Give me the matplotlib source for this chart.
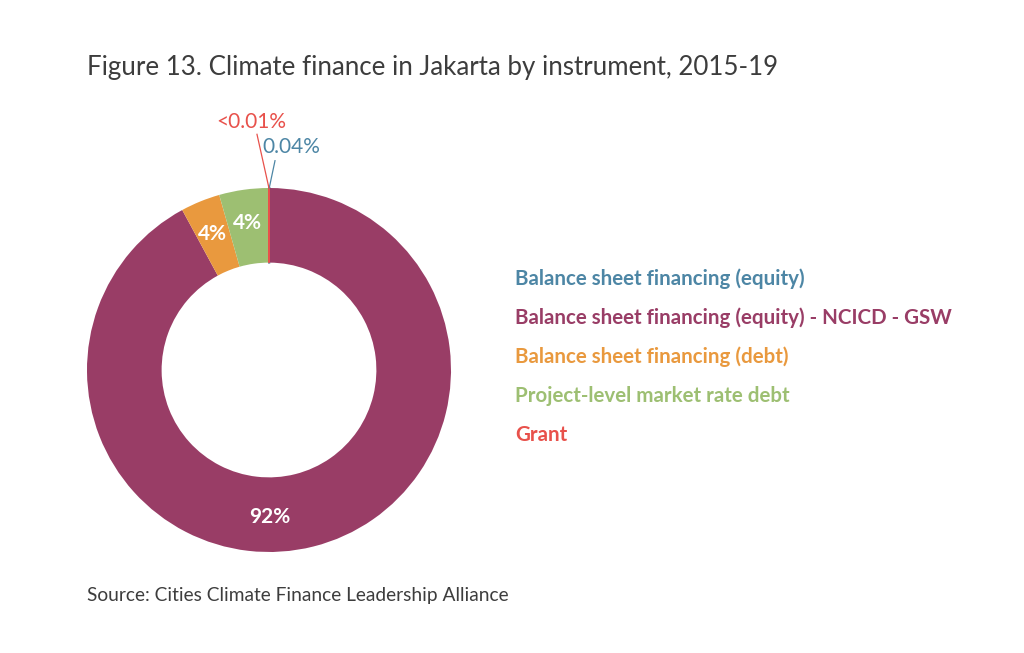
import numpy as np
import matplotlib
matplotlib.use("Agg")
import matplotlib.pyplot as plt

plt.rcParams['font.family'] = ['Lato', 'DejaVu Sans']

# Data (share of climate finance, %)
categories = [
    "Balance sheet financing (equity)",
    "Balance sheet financing (equity) - NCICD - GSW",
    "Balance sheet financing (debt)",
    "Project-level market rate debt",
    "Grant",
]
values = [0.04, 92.05, 3.5, 4.4, 0.01]
labels = ["0.04%", "92%", "4%", "4%", "<0.01%"]
colors = ["#4d86a5", "#993d66", "#e9993e", "#9dbf72", "#e8514b"]

fig = plt.figure(figsize=(10.24, 6.53), dpi=100)
fig.patch.set_facecolor("white")

# donut axes: centre (269, 370) px, radius 182 px
ax = fig.add_axes([87 / 1024, (653 - 552) / 653, 364 / 1024, 364 / 653])
wedges, _ = ax.pie(
    values,
    colors=colors,
    startangle=90,
    counterclock=False,
    radius=1.0,
    wedgeprops=dict(width=0.41, edgecolor="none"),
)
# tiny slivers get an outline so they stay visible
for w, c, v in zip(wedges, colors, values):
    if v < 1:
        w.set_edgecolor(c)
        w.set_linewidth(1.4 if v > 0.02 else 1.0)
ax.set_xlim(-1, 1)
ax.set_ylim(-1, 1)
ax.set_aspect("equal")

# mid angle of each wedge (degrees, standard orientation)
mids = [(w.theta1 + w.theta2) / 2 for w in wedges]

# labels inside the ring
inner_pos = {1: (0.005, -0.81), 2: (-0.31, 0.75), 3: (-0.12, 0.81)}
for i, (x, y) in inner_pos.items():
    ax.text(x, y, labels[i], color="white", fontsize=15, fontweight="bold",
            ha="center", va="center")

# callouts for the small slices
callouts = {0: ((0.12, 1.225), (0.033, 1.15)), 4: ((-0.10, 1.36), (-0.066, 1.295))}
for i, (tpos, lstart) in callouts.items():
    a = np.deg2rad(mids[i])
    end = (np.cos(a), np.sin(a))
    ax.plot([lstart[0], end[0]], [lstart[1], end[1]], color=colors[i],
            lw=0.9, clip_on=False)
    ax.text(tpos[0], tpos[1], labels[i], color=colors[i], fontsize=15,
            ha="center", va="center", clip_on=False)

# legend as coloured text
for k, (cat, c) in enumerate(zip(categories, colors)):
    fig.text(515 / 1024, 1 - (279 + 39 * k) / 653, cat, color=c,
             fontsize=14.8, fontweight="bold", ha="left", va="center")

fig.text(87 / 1024, 1 - 68 / 653, "Figure 13. Climate finance in Jakarta by instrument, 2015-19",
         color="#3d3d3d", fontsize=18.6, ha="left", va="center")
fig.text(87 / 1024, 1 - 595 / 653, "Source: Cities Climate Finance Leadership Alliance",
         color="#3d3d3d", fontsize=13.8, ha="left", va="center")

fig.savefig("out.png", dpi=100, facecolor="white")
